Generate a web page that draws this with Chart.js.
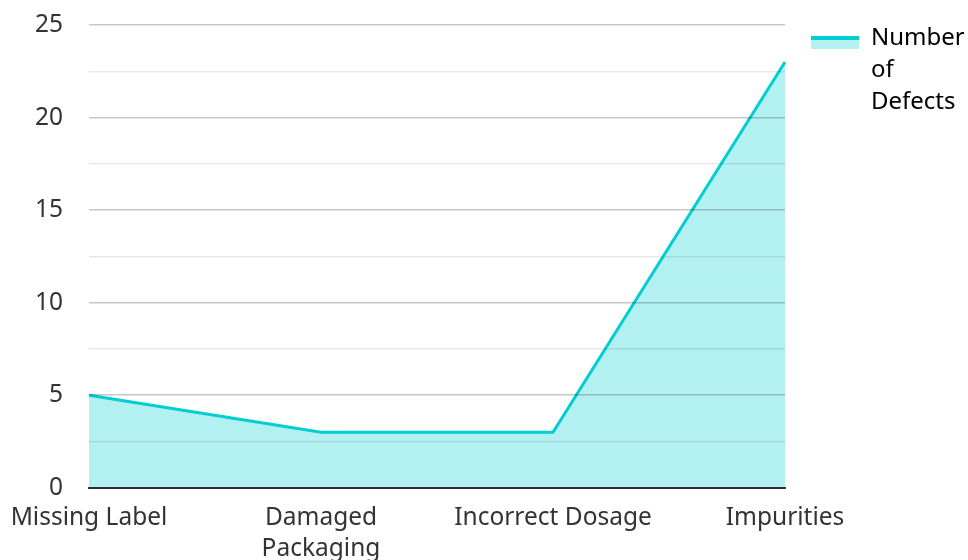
<!DOCTYPE html>
<html><head><meta charset="utf-8">
<script src="https://cdn.jsdelivr.net/npm/chart.js@4/dist/chart.umd.min.js"></script>
<style>html,body{margin:0;padding:0;background:#fff}#wrap{width:968px;height:560px}</style>
</head><body><div id="wrap"><canvas id="c" width="968" height="560"></canvas></div>
<script>
const categories = [["Missing Label"], ["Damaged", "Packaging"], ["Incorrect Dosage"], ["Impurities"]];
const defects = [5, 3, 3, 23];
const seriesName = ["Number", "of", "Defects"];
const yTicks = [0, 5, 10, 15, 20, 25];

const FONT = "'Noto Sans', 'Open Sans', sans-serif";
Chart.defaults.font.family = FONT;
Chart.defaults.font.size = 24.5;
Chart.defaults.font.lineHeight = 1.25;
Chart.defaults.color = '#333';

const LINE = '#00CED1';
const FILL = 'rgba(0,206,209,0.3)';

// legend marker: thick line on top of a filled band
const marker = document.createElement('canvas');
marker.width = 48; marker.height = 24;
(function () {
  const g = marker.getContext('2d');
  g.fillStyle = FILL; g.fillRect(0, 12, 48, 11);
  g.fillStyle = LINE; g.fillRect(0, 10, 48, 4);
})();

const legendWidthFix = {
  id: 'legendWidthFix',
  afterInit(chart) {
    const lg = chart.legend;
    if (!lg) return;
    const fit = lg.fit.bind(lg);
    lg.fit = function () { fit(); this.width = 179; };
  }
};

new Chart(document.getElementById('c'), {
  type: 'line',
  data: {
    labels: categories,
    datasets: [{
      label: seriesName.join(' '),
      data: defects,
      borderColor: LINE,
      backgroundColor: FILL,
      borderWidth: 3,
      fill: 'origin',
      tension: 0,
      pointRadius: 0,
      pointHoverRadius: 0
    }]
  },
  plugins: [legendWidthFix],
  options: {
    responsive: false,
    animation: false,
    layout: { padding: { left: 0, top: 0, right: 4, bottom: -19 } },
    plugins: {
      tooltip: { enabled: false },
      legend: {
        position: 'right',
        align: 'start',
        labels: {
          usePointStyle: true,
          pointStyleWidth: 48,
          boxWidth: 48,
          boxHeight: 24,
          padding: 26,
          color: '#333',
          font: { size: 24, family: FONT, lineHeight: 1.33 },
          generateLabels: () => [{
            text: seriesName,
            pointStyle: marker,
            fillStyle: FILL,
            strokeStyle: LINE,
            lineWidth: 0,
            hidden: false,
            datasetIndex: 0
          }]
        }
      }
    },
    scales: {
      x: {
        offset: false,
        afterFit: (scale) => { scale.paddingLeft = 89; scale.paddingRight = 0; },
        grid: { display: false, drawTicks: false },
        border: { display: true, color: '#333', width: 2 },
        ticks: { maxRotation: 0, autoSkip: false, padding: 15, color: '#333' }
      },
      y: {
        min: 0, max: 25,
        border: { display: false },
        afterFit: (scale) => { scale.paddingTop = 25; scale.paddingBottom = 15; },
        grid: {
          drawTicks: false,
          z: 1,
          color: (ctx) => (ctx.tick && ctx.tick.value % 5 === 0) ? 'rgba(0,0,0,0.22)' : 'rgba(0,0,0,0.09)',
          lineWidth: 1.5
        },
        ticks: {
          stepSize: 2.5,
          padding: 26,
          color: '#333',
          callback: (v) => yTicks.includes(v) ? String(v) : ''
        }
      }
    }
  }
});
</script></body></html>
